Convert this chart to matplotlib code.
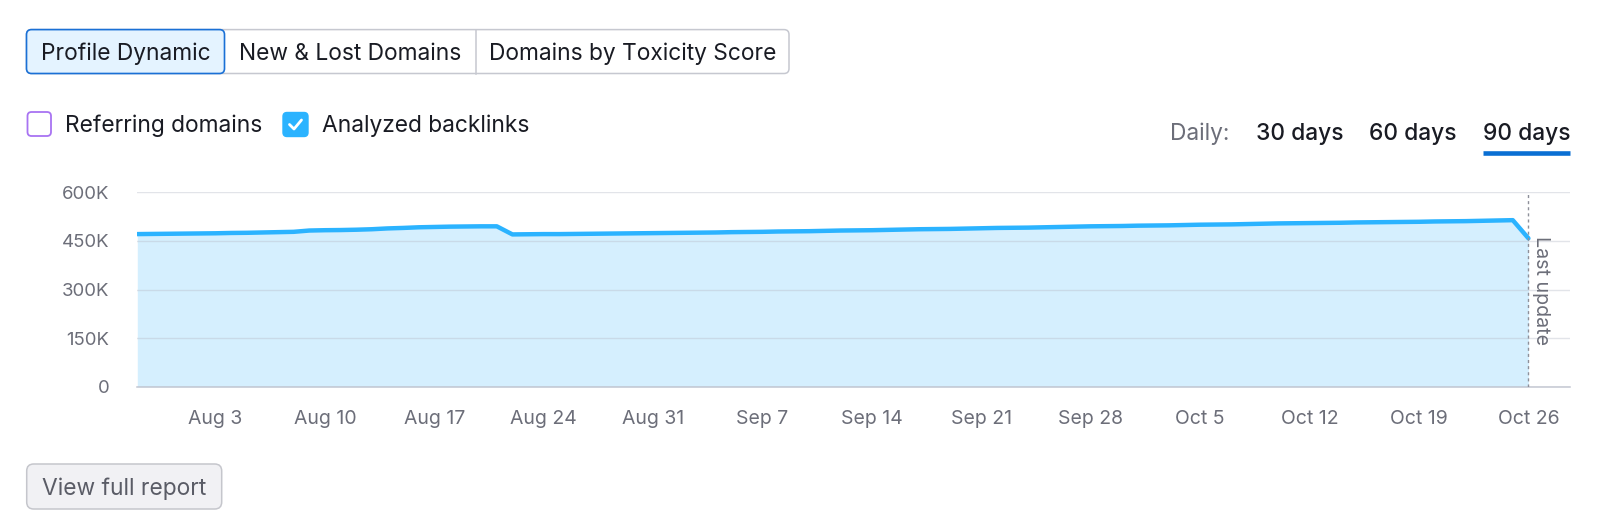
import numpy as np
import matplotlib
matplotlib.use("Agg")
import matplotlib.pyplot as plt
import matplotlib.dates as mdates
from matplotlib.patches import FancyBboxPatch

plt.rcParams['font.family'] = ['Inter', 'DejaVu Sans']

# ---------------- data ----------------
start_date = "2023-07-29"
# Analyzed backlinks, daily, in thousands (Jul 29 .. Oct 26)
backlinks_k = [
    471, 471.5, 472, 472.5, 473, 473.5, 474.5, 475, 476, 477, 478,
    482, 483, 483.5, 484.5, 486, 488.5, 490, 492, 493, 494, 494.5, 495, 495,
    470,
    470.5, 471, 471, 471.5, 472, 472.5, 473, 473.5, 474, 474.5, 475, 475.5, 476, 477,
    477.5, 478, 479, 479.5, 480, 481, 482, 482.5, 483, 484, 485,
    486, 486.5, 487, 488, 489, 490, 490.5, 491, 492,
    493, 494, 495, 495.5, 496, 497, 497.5, 498, 499, 500, 500.5, 501, 502, 503, 504,
    504.5, 505, 505.5, 506, 507, 507.5, 508, 508.5, 509, 510, 510.5, 511, 512, 513, 514,
    458,
]
y_ticks = [0, 150000, 300000, 450000, 600000]
y_tick_labels = ["0", "150K", "300K", "450K", "600K"]
x_tick_dates = ["2023-08-03", "2023-08-10", "2023-08-17", "2023-08-24", "2023-08-31",
                "2023-09-07", "2023-09-14", "2023-09-21", "2023-09-28", "2023-10-05",
                "2023-10-12", "2023-10-19", "2023-10-26"]
x_tick_labels = ["Aug 3", "Aug 10", "Aug 17", "Aug 24", "Aug 31", "Sep 7", "Sep 14",
                 "Sep 21", "Sep 28", "Oct 5", "Oct 12", "Oct 19", "Oct 26"]
tabs = ["Profile Dynamic", "New & Lost Domains", "Domains by Toxicity Score"]
toggles = ["Referring domains", "Analyzed backlinks"]
periods = ["30 days", "60 days", "90 days"]

# ---------------- styling ----------------
W, H = 1600, 532
LINE = "#2bb3ff"
FILL = "#d5effe"
GRAY_TXT = "#6c6e79"
DARK = "#191b23"
UI_FS = 16.4

fig = plt.figure(figsize=(W / 100, H / 100), dpi=100)
fig.patch.set_facecolor("white")

ax_l, ax_r, ax_t, ax_b = 137.3, 1570, 192.3, 386.7
ax = fig.add_axes([ax_l / W, (H - ax_b) / H, (ax_r - ax_l) / W, (ax_b - ax_t) / H])

d0 = np.datetime64(start_date)
dates = d0 + np.arange(len(backlinks_k))
x = mdates.date2num(dates)
y = np.array(backlinks_k) * 1000

ax.fill_between(x, 0, y, color=FILL, lw=0, zorder=1)
ax.plot(x, y, color=LINE, lw=3.2, solid_joinstyle="round", solid_capstyle="round", zorder=3)

ax.set_xlim(x[0], x[0] + 91.66)
ax.set_ylim(0, 600000)
ax.set_yticks(y_ticks)
ax.set_yticklabels(y_tick_labels)
ax.set_xticks(mdates.date2num(np.array(x_tick_dates, dtype="datetime64[D]")))
ax.set_xticklabels(x_tick_labels)
ax.tick_params(axis="both", length=0, labelcolor=GRAY_TXT)
ax.tick_params(axis="y", pad=20, labelsize=13.4)
ax.tick_params(axis="x", pad=16.5, labelsize=14)
ax.yaxis.grid(True, color="#b8bcc8", alpha=0.4, lw=1.0, zorder=2)
ax.set_axisbelow(False)
for s in ["top", "right", "left"]:
    ax.spines[s].set_visible(False)
ax.spines["bottom"].set_color("#c3c7d2")
ax.spines["bottom"].set_linewidth(1.1)
ax.patch.set_alpha(0)

# last update marker
ax.axvline(x[-1], color="#8e909a", lw=1.0, ls=(0, (2.2, 2.2)), zorder=4)
ax.annotate("Last update", xy=(x[-1], 0.497), xycoords=("data", "axes fraction"),
            xytext=(13, 0), textcoords="offset pixels", rotation=-90,
            ha="center", va="center", fontsize=14.1, color=GRAY_TXT)

# ---------------- UI overlay (pixel coordinates) ----------------
ui = fig.add_axes([0, 0, 1, 1], zorder=5)
ui.set_xlim(0, W)
ui.set_ylim(H, 0)
ui.axis("off")
ui.patch.set_alpha(0)

def rbox(x0, y0, x1, y1, r, fc, ec, lw):
    p = FancyBboxPatch((x0 + r, y0 + r), (x1 - x0) - 2 * r, (y1 - y0) - 2 * r,
                       boxstyle=f"round,pad={r}", fc=fc, ec=ec, lw=lw)
    ui.add_patch(p)

# tabs
tab_edges = [26.5, 224.5, 475.5, 789]
ty0, ty1 = 29.6, 73.5
rbox(tab_edges[0], ty0, tab_edges[-1], ty1, 5, "white", "#c6c8d0", 1.1)
ui.plot([tab_edges[2], tab_edges[2]], [ty0, ty1], color="#c6c8d0", lw=1.1)
rbox(tab_edges[0], ty0, tab_edges[1], ty1, 5, "#e4f3ff", "#1a70d6", 1.2)
for i, t in enumerate(tabs):
    cx = (tab_edges[i] + tab_edges[i + 1]) / 2
    ui.text(cx, (ty0 + ty1) / 2, t, ha="center", va="center_baseline",
            fontsize=UI_FS, color=DARK)

# toggles
rbox(27.5, 112, 51, 136, 4, "white", "#a873f2", 1.3)
rbox(283, 112.5, 308, 136.5, 4, LINE, LINE, 1.0)
ui.plot([289.5, 294, 301.5], [124.5, 129, 120], color="white", lw=2.0,
        solid_capstyle="round", solid_joinstyle="round")
ui.text(65, 123.5, toggles[0], ha="left", va="center_baseline", fontsize=UI_FS, color=DARK)
ui.text(322.5, 123.5, toggles[1], ha="left", va="center_baseline", fontsize=UI_FS, color=DARK)

# period selector
ui.text(1170, 131.6, "Daily:", ha="left", va="center_baseline", fontsize=UI_FS, color=GRAY_TXT)
period_x = [1256.4, 1369, 1483]
for px, p in zip(period_x, periods):
    ui.text(px, 131.6, p, ha="left", va="center_baseline", fontsize=UI_FS,
            color=DARK, fontweight="medium")
ui.plot([1483, 1570], [152.5, 152.5], color="#0a6fd3", lw=3.3, solid_capstyle="butt")

# button
rbox(26.7, 464, 221.7, 509, 7, "#f1f1f4", "#c5c6cc", 1.1)
ui.text(124.3, 486, "View full report", ha="center", va="center_baseline",
        fontsize=UI_FS, color="#5a5c66")

fig.savefig("out.png", dpi=100, facecolor="white")
